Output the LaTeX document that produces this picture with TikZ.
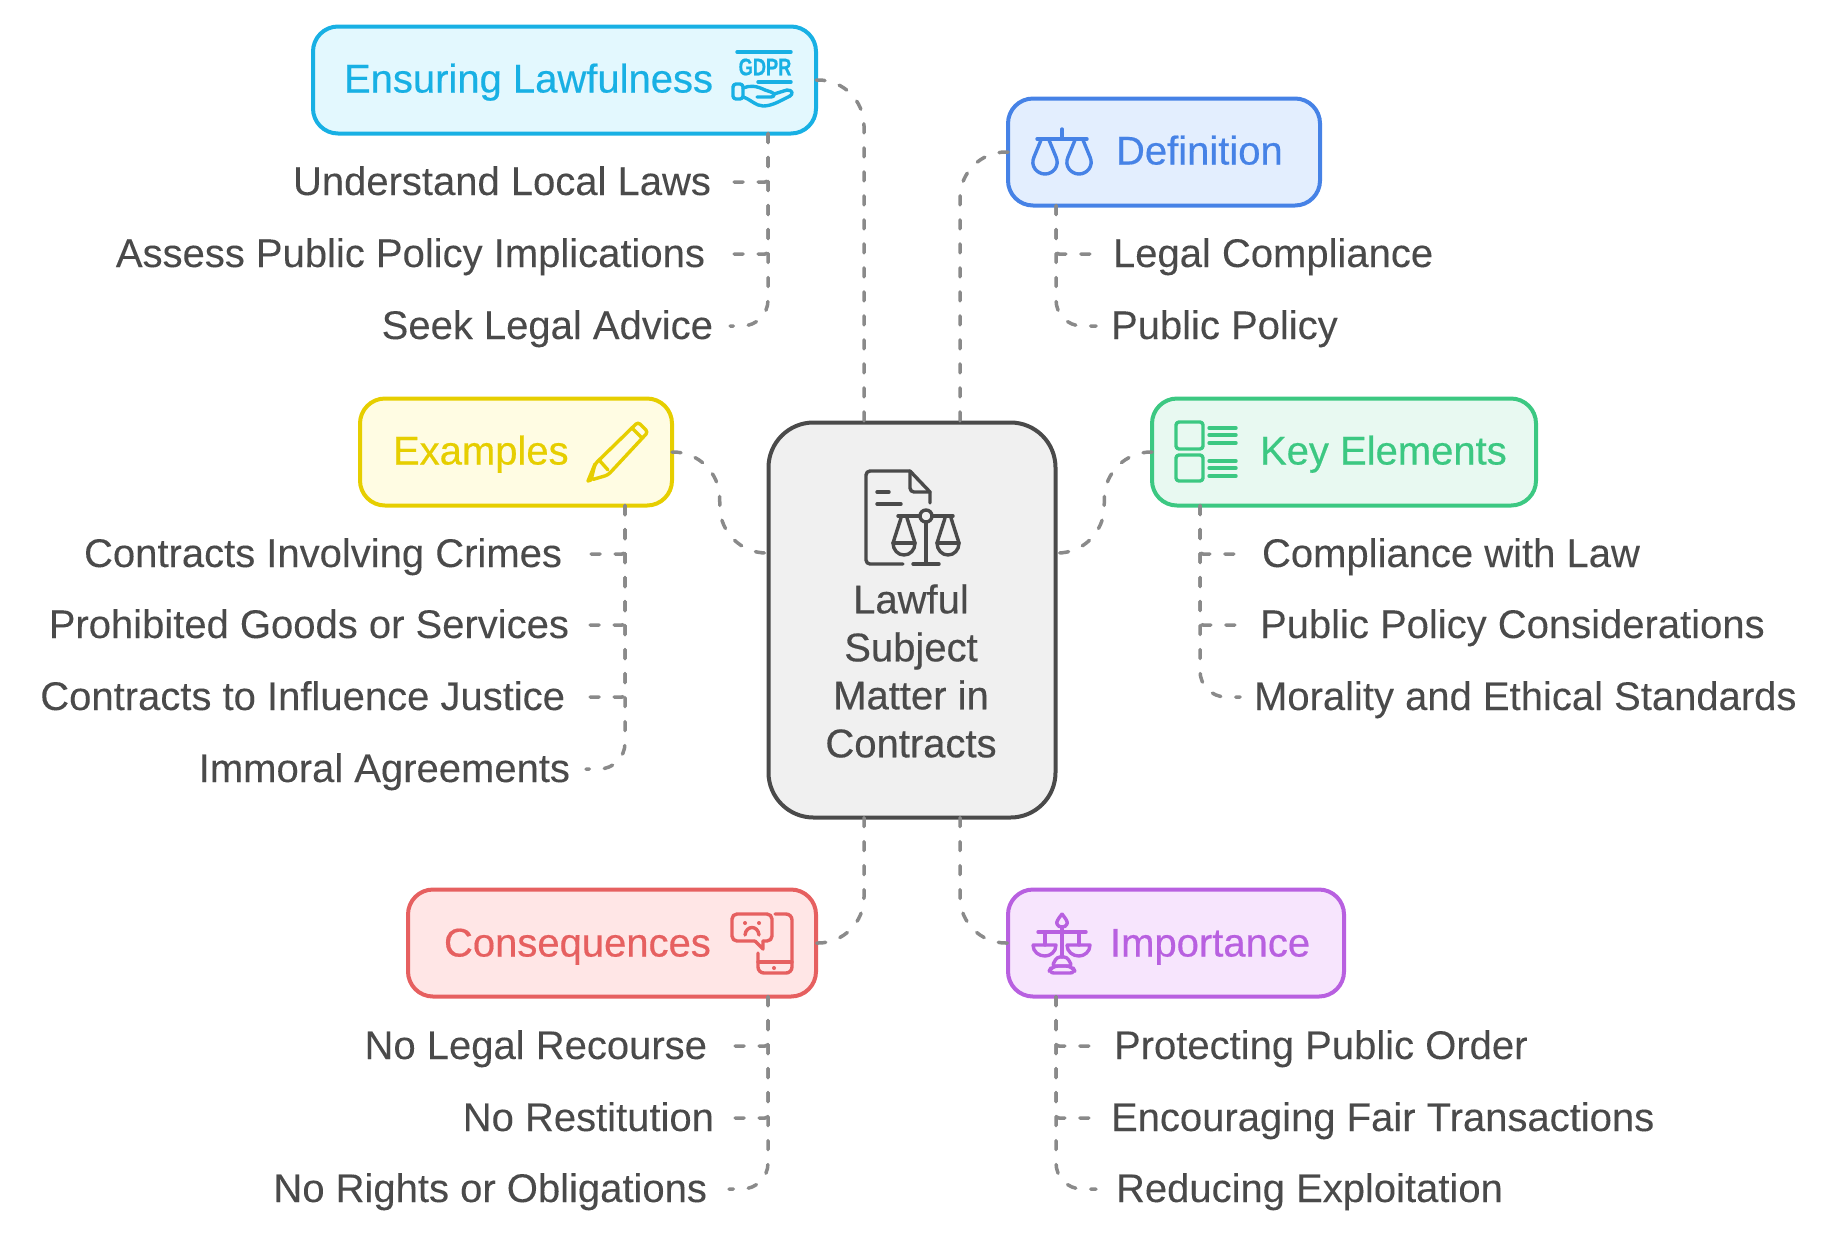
\documentclass[tikz,border=0pt]{standalone}
\usepackage{fontspec}
\setmainfont[FakeBold=0.1]{Liberation Sans}
\newfontfamily\titlefont[FakeBold=0.45]{Liberation Sans}
\newfontfamily\gdprfont[FakeStretch=0.76,FakeBold=0.5]{Liberation Sans Bold}
\usetikzlibrary{calc}
\definecolor{inkGrey}{HTML}{4A4A4A}
\definecolor{linkGrey}{HTML}{8A8A8A}
\definecolor{ensLine}{HTML}{18B0E4}
\definecolor{ensFill}{HTML}{E3F8FE}
\definecolor{defLine}{HTML}{4682E6}
\definecolor{defFill}{HTML}{E3EEFE}
\definecolor{exaLine}{HTML}{E6CE00}
\definecolor{exaFill}{HTML}{FFFCE3}
\definecolor{keyLine}{HTML}{3CC882}
\definecolor{keyFill}{HTML}{E8F9F1}
\definecolor{conLine}{HTML}{E66060}
\definecolor{conFill}{HTML}{FFE6E6}
\definecolor{impLine}{HTML}{B860E0}
\definecolor{impFill}{HTML}{F7E5FD}
\begin{document}
\begin{tikzpicture}[
      x=0.5pt, y=-0.5pt,
      font=\fontsize{20pt}{24pt}\selectfont,
      hubbox/.style={draw=inkGrey, fill=black!6, line width=2pt, rounded corners=22.5pt,
        minimum width=143.5pt, minimum height=197.5pt, inner sep=0pt, outer sep=0pt},
      topicbox/.style={line width=2pt, rounded corners=12.5pt,
        minimum height=53.5pt, inner sep=0pt, outer sep=0pt},
      topic/.style={font=\titlefont\fontsize{20pt}{24pt}\selectfont, inner sep=0pt, outer sep=0pt,
        text height=14pt, text depth=0.5pt},
      item/.style={text=inkGrey, inner sep=0pt, outer sep=0pt, text height=14pt, text depth=1pt},
      link/.style={draw=linkGrey, line width=1.75pt, line cap=round,
        dash pattern=on 4.5pt off 7.5pt, rounded corners=1.5pt},
      hublink/.style={link, rounded corners=23pt},
      lastlink/.style={link, rounded corners=13pt},
      glyph/.style={line width=1.7pt, line cap=round, line join=round}
    ]
      \useasboundingbox (0,0) rectangle (1824,1238);

      % hub and the six topic boxes
      \node[hubbox] (hub) at (912,620) {};
      \node[topicbox, draw=ensLine, fill=ensFill, minimum width=251.5pt] (ens) at (564.5,80) {};
      \node[topicbox, draw=defLine, fill=defFill, minimum width=156pt] (def) at (1164,152) {};
      \node[topicbox, draw=exaLine, fill=exaFill, minimum width=156pt] (exa) at (516,452) {};
      \node[topicbox, draw=keyLine, fill=keyFill, minimum width=192pt] (key) at (1344,452) {};
      \node[topicbox, draw=conLine, fill=conFill, minimum width=204pt] (con) at (612,943) {};
      \node[topicbox, draw=impLine, fill=impFill, minimum width=168pt] (imp) at (1176,943) {};

      \node[text=inkGrey, align=center, inner sep=0pt, font=\titlefont\fontsize{20pt}{24pt}\selectfont] (hubT) at (911,671)
        {Lawful\\Subject\\Matter in\\Contracts};
      \node[topic, text=ensLine, anchor=west] (ensT) at (344,79) {Ensuring Lawfulness};
      \node[topic, text=defLine, anchor=west] (defT) at (1116,151) {Definition};
      \node[topic, text=exaLine, anchor=west] (exaT) at (393,451) {Examples};
      \node[topic, text=keyLine, anchor=west] (keyT) at (1260,451) {Key Elements};
      \node[topic, text=conLine, anchor=west] (conT) at (444,943) {Consequences};
      \node[topic, text=impLine, anchor=west] (impT) at (1110,943) {Importance};

      % left column items hang on their east end, right column on their west end
      \node[item, anchor=east] (ens1) at (711,182) {Understand Local Laws};
      \node[item, anchor=east] (ens2) at (705,254) {Assess Public Policy Implications};
      \node[item, anchor=east] (ens3) at (713,326) {Seek Legal Advice};
      \node[item, anchor=west] (def1) at (1113,254) {Legal Compliance};
      \node[item, anchor=west] (def2) at (1111,326) {Public Policy};
      \node[item, anchor=east] (exa1) at (562,554) {Contracts Involving Crimes};
      \node[item, anchor=east] (exa2) at (569,625) {Prohibited Goods or Services};
      \node[item, anchor=east] (exa3) at (565,697) {Contracts to Influence Justice};
      \node[item, anchor=east] (exa4) at (570,769) {Immoral Agreements};
      \node[item, anchor=west] (key1) at (1262,554) {Compliance with Law};
      \node[item, anchor=west] (key2) at (1260,625) {Public Policy Considerations};
      \node[item, anchor=west] (key3) at (1254,697) {Morality and Ethical Standards};
      \node[item, anchor=east] (con1) at (707,1046) {No Legal Recourse};
      \node[item, anchor=east] (con2) at (714,1118) {No Restitution};
      \node[item, anchor=east] (con3) at (707,1189) {No Rights or Obligations};
      \node[item, anchor=west] (imp1) at (1114,1046) {Protecting Public Order};
      \node[item, anchor=west] (imp2) at (1111,1118) {Encouraging Fair Transactions};
      \node[item, anchor=west] (imp3) at (1116,1189) {Reducing Exploitation};

      % hub connectors
      \coordinate (hubNW) at ($(hub.north)+(-48,0)$);
      \coordinate (hubNE) at ($(hub.north)+(48,0)$);
      \coordinate (hubSW) at ($(hub.south)+(-48,0)$);
      \coordinate (hubSE) at ($(hub.south)+(48,0)$);
      \coordinate (hubW) at ($(hub.west)+(0,-67)$);
      \coordinate (hubE) at ($(hub.east)+(0,-67)$);
      \draw[hublink] (ens.east) -| (hubNW);
      \draw[hublink] (def.west) -| (hubNE);
      \draw[hublink] (hubSW) |- (con.east);
      \draw[hublink] (hubSE) |- (imp.west);
      \draw[hublink] (exa.east) -- ($(exa.east)+(47,0)$) -- ($(hubW)+(-48,0)$) -- (hubW);
      \draw[hublink] (key.west) -- ($(key.west)+(-47,0)$) -- ($(hubE)+(48,0)$) -- (hubE);

      % item connectors
      \foreach \n/\g in {1/22,2/28}
        \draw[link] ($(ens.south east)+(-48,0)$) |- ($(ens\n.east)+(\g,0)$);
      \draw[lastlink] ($(ens.south east)+(-48,0)$) |- ($(ens3.east)+(17,0)$);
      \draw[link] ($(def.south west)+(48,0)$) |- ($(def1.west)+(-19,0)$);
      \draw[lastlink] ($(def.south west)+(48,0)$) |- ($(def2.west)+(-15,0)$);
      \foreach \n/\g in {1/28,2/21,3/25}
        \draw[link] ($(exa.south east)+(-47,0)$) |- ($(exa\n.east)+(\g,0)$);
      \draw[lastlink] ($(exa.south east)+(-47,0)$) |- ($(exa4.east)+(16,0)$);
      \foreach \n/\g in {1/-25,2/-23}
        \draw[link] ($(key.south west)+(48,0)$) |- ($(key\n.west)+(\g,0)$);
      \draw[lastlink] ($(key.south west)+(48,0)$) |- ($(key3.west)+(-14,0)$);
      \foreach \n/\g in {1/26,2/19}
        \draw[link] ($(con.south east)+(-48,0)$) |- ($(con\n.east)+(\g,0)$);
      \draw[lastlink] ($(con.south east)+(-48,0)$) |- ($(con3.east)+(22,0)$);
      \foreach \n/\g in {1/-23,2/-20}
        \draw[link] ($(imp.south west)+(48,0)$) |- ($(imp\n.west)+(\g,0)$);
      \draw[lastlink] ($(imp.south west)+(48,0)$) |- ($(imp3.west)+(-20,0)$);

      % hub icon: document with scales
      \begin{scope}[glyph, draw=inkGrey]
        \draw[rounded corners=2pt] (903,564) -- (866,564) -- (866,471) -- (910,471);
        \draw (910,471) -- (930,492) -- (930,503);
        \draw[rounded corners=2pt] (910,471) -- (910,492) -- (930,492);
        \draw (877,492) -- (889,492) (877,504) -- (901,504);
        \draw (898,516) -- (920,516) (932,516) -- (953,516);
        \draw (926,516) circle[radius=6];
        \draw (926,522) -- (926,564) (913,564) -- (939,564);
        \foreach \dx in {0,44} {\begin{scope}[shift={(\dx,0)}]
          \draw (901,518) -- (893,543) .. controls (893,550) and (898,555) .. (904,555)
            .. controls (910,555) and (915,550) .. (915,543) -- (907,518);
          \draw (893,543) -- (915,543);
        \end{scope}}
      \end{scope}

      % ensuring lawfulness icon
      \begin{scope}[glyph, draw=ensLine]
        \draw (737,52) -- (791,52) (758,82) -- (791,82);
        \node[text=ensLine, inner sep=0pt] (gdpr) at (765,67) {\gdprfont\fontsize{12pt}{12pt}\selectfont GDPR};
        \draw[rounded corners=1.5pt] (743,84) -- (733,84) -- (733,99) -- (743,99) -- cycle;
        \draw (743,88) .. controls (750,85) and (757,86) .. (765,90) -- (771,92)
          .. controls (775,93) and (775,97) .. (771,97) -- (757,97);
        \draw (774,94) -- (787,90) .. controls (793,90) and (793,94) .. (790,96)
          .. controls (780,101) and (772,106) .. (763,106) .. controls (756,106) and (750,99) .. (743,97);
      \end{scope}

      % definition icon
      \begin{scope}[glyph, draw=defLine]
        \draw (1062,129) -- (1062,139) (1037,139) -- (1087,139);
        \foreach \dx in {0,34} {\begin{scope}[shift={(\dx,0)}]
          \draw (1041,140) -- (1034,157) .. controls (1030,166) and (1037,174) .. (1045,174)
            .. controls (1053,174) and (1060,166) .. (1056,157) -- (1049,140);
        \end{scope}}
      \end{scope}

      % examples icon: pencil
      \begin{scope}[glyph, draw=exaLine]
        \draw[rounded corners=1.5pt] (595,464) -- (638,422) -- (648,432) -- (608,475)
          -- (591,480) -- cycle;
        \draw (595,464) -- (588,481) (591,480) -- (588,481);
        \draw (632,428) -- (642,438) (600,461) -- (608,470);
      \end{scope}

      % key elements icon
      \begin{scope}[glyph, draw=keyLine]
        \draw[rounded corners=1.5pt] (1176,422) rectangle (1203,449);
        \draw[rounded corners=1.5pt] (1176,455) rectangle (1203,481);
        \foreach \y in {428,435,443,461,468,476}
          \draw (1209,\y) -- (1236,\y);
      \end{scope}

      % consequences icon: phone and bubble
      \begin{scope}[glyph, draw=conLine]
        \draw[rounded corners=2.5pt] (755,941) -- (732,941) -- (732,914) -- (772,914) -- (772,941) -- (763,941);
        \draw (755,941) -- (763,949) -- (763,941);
        \draw[rounded corners=3pt] (775,914) -- (792,914) -- (792,973) -- (758,973) -- (758,953);
        \draw (758,962) -- (792,962);
        \fill[conLine] (774,968) circle[radius=2];
        \fill[conLine] (745,923) circle[radius=2] (759,923) circle[radius=2];
        \draw (745,935) .. controls (746,925) and (758,925) .. (759,935);
      \end{scope}

      % importance icon
      \begin{scope}[glyph, draw=impLine]
        \draw (1062,914) .. controls (1066,919) and (1068,922) .. (1067,924)
          .. controls (1066,928) and (1058,928) .. (1057,924) .. controls (1056,922) and (1058,919) .. (1062,914);
        \draw (1062,928) -- (1062,957) (1038,932) -- (1086,932);
        \foreach \dx in {0,34} {\begin{scope}[shift={(\dx,0)}]
          \draw (1045,932) -- (1045,945);
          \draw (1033,945) -- (1056,945) .. controls (1056,952) and (1050,956) .. (1045,956)
            .. controls (1039,956) and (1033,952) .. (1033,945);
        \end{scope}}
        \draw[rounded corners=1.5pt] (1057,957) -- (1067,957) -- (1072,966) -- (1052,966) -- cycle;
        \draw[rounded corners=3pt] (1052,966) -- (1072,966) -- (1076,973) -- (1048,973) -- cycle;
      \end{scope}
    \end{tikzpicture}
\end{document}
